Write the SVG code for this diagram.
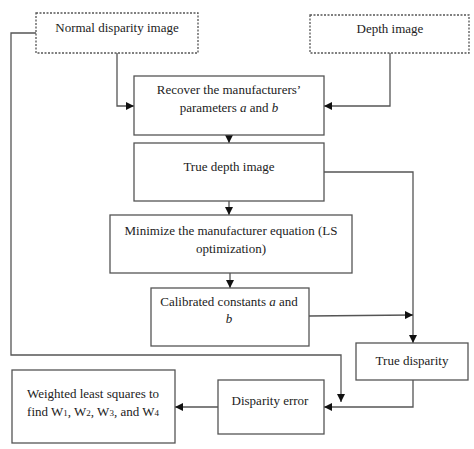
<svg xmlns="http://www.w3.org/2000/svg" width="474" height="449" viewBox="0 0 474 449">
<defs>
<style>
.box{fill:#fff;stroke:#555;stroke-width:1.3}
.dash{stroke-dasharray:2 1.5}
.t{font-family:'Liberation Serif','DejaVu Serif',serif;font-size:13px;fill:#222;text-anchor:middle}
.c{fill:none;stroke:#555;stroke-width:1.3}
.sub{font-size:9px}
</style>
<marker id="ah" viewBox="0 0 10 10" refX="10" refY="5" markerWidth="8" markerHeight="8" markerUnits="userSpaceOnUse" orient="auto">
<path d="M0,0L10,5L0,10z" fill="#111"/>
</marker>
</defs>
<rect width="474" height="449" fill="#fff"/>
<g id="connectors">
<path class="c" d="M36,33H11V355H341V402" marker-end="url(#ah)"/>
<path class="c" d="M117,53V106H134" marker-end="url(#ah)"/>
<path class="c" d="M390,53V106H324" marker-end="url(#ah)"/>
<path class="c" d="M229,135V143" marker-end="url(#ah)"/>
<path class="c" d="M324,172H413V343" marker-end="url(#ah)"/>
<path class="c" d="M229,201V215" marker-end="url(#ah)"/>
<path class="c" d="M230,273V288" marker-end="url(#ah)"/>
<path class="c" d="M309,316L413,315" marker-end="url(#ah)"/>
<path class="c" d="M413,380V407H324" marker-end="url(#ah)"/>
<path class="c" d="M218,407H175" marker-end="url(#ah)"/>
</g>
<g id="normal-disparity">
<rect class="box dash" x="36" y="13" width="162" height="40"/>
<text class="t" x="117" y="32" font-family="Liberation Serif, serif">Normal disparity image</text>
</g>
<g id="depth-image">
<rect class="box dash" x="310" y="15" width="159" height="38"/>
<text class="t" x="390" y="33">Depth image</text>
</g>
<g id="recover">
<rect class="box" x="134" y="76" width="190" height="59"/>
<text class="t" x="229" y="94">Recover the manufacturers’</text>
<text class="t" x="229" y="112">parameters <tspan font-style="italic">a</tspan> and <tspan font-style="italic">b</tspan></text>
</g>
<g id="true-depth">
<rect class="box" x="134" y="143" width="190" height="58"/>
<text class="t" x="229" y="171">True depth image</text>
</g>
<g id="minimize">
<rect class="box" x="110" y="215" width="242" height="58"/>
<text class="t" x="231" y="235">Minimize the manufacturer equation (LS</text>
<text class="t" x="231" y="253">optimization)</text>
</g>
<g id="calibrated">
<rect class="box" x="151" y="288" width="158" height="58"/>
<text class="t" x="229" y="306">Calibrated constants <tspan font-style="italic">a</tspan> and</text>
<text class="t" x="229" y="323" font-style="italic">b</text>
</g>
<g id="true-disparity">
<rect class="box" x="356" y="343" width="112" height="37"/>
<text class="t" x="412" y="365">True disparity</text>
</g>
<g id="disparity-error">
<rect class="box" x="218" y="380" width="106" height="54"/>
<text class="t" x="270" y="405">Disparity error</text>
</g>
<g id="weighted">
<rect class="box" x="12" y="370" width="163" height="73"/>
<text class="t" x="93" y="398">Weighted least squares to</text>
<text class="t" x="93" y="416">find W<tspan class="sub">1</tspan>, W<tspan class="sub">2</tspan>, W<tspan class="sub">3</tspan>, and W<tspan class="sub">4</tspan></text>
</g>
</svg>
